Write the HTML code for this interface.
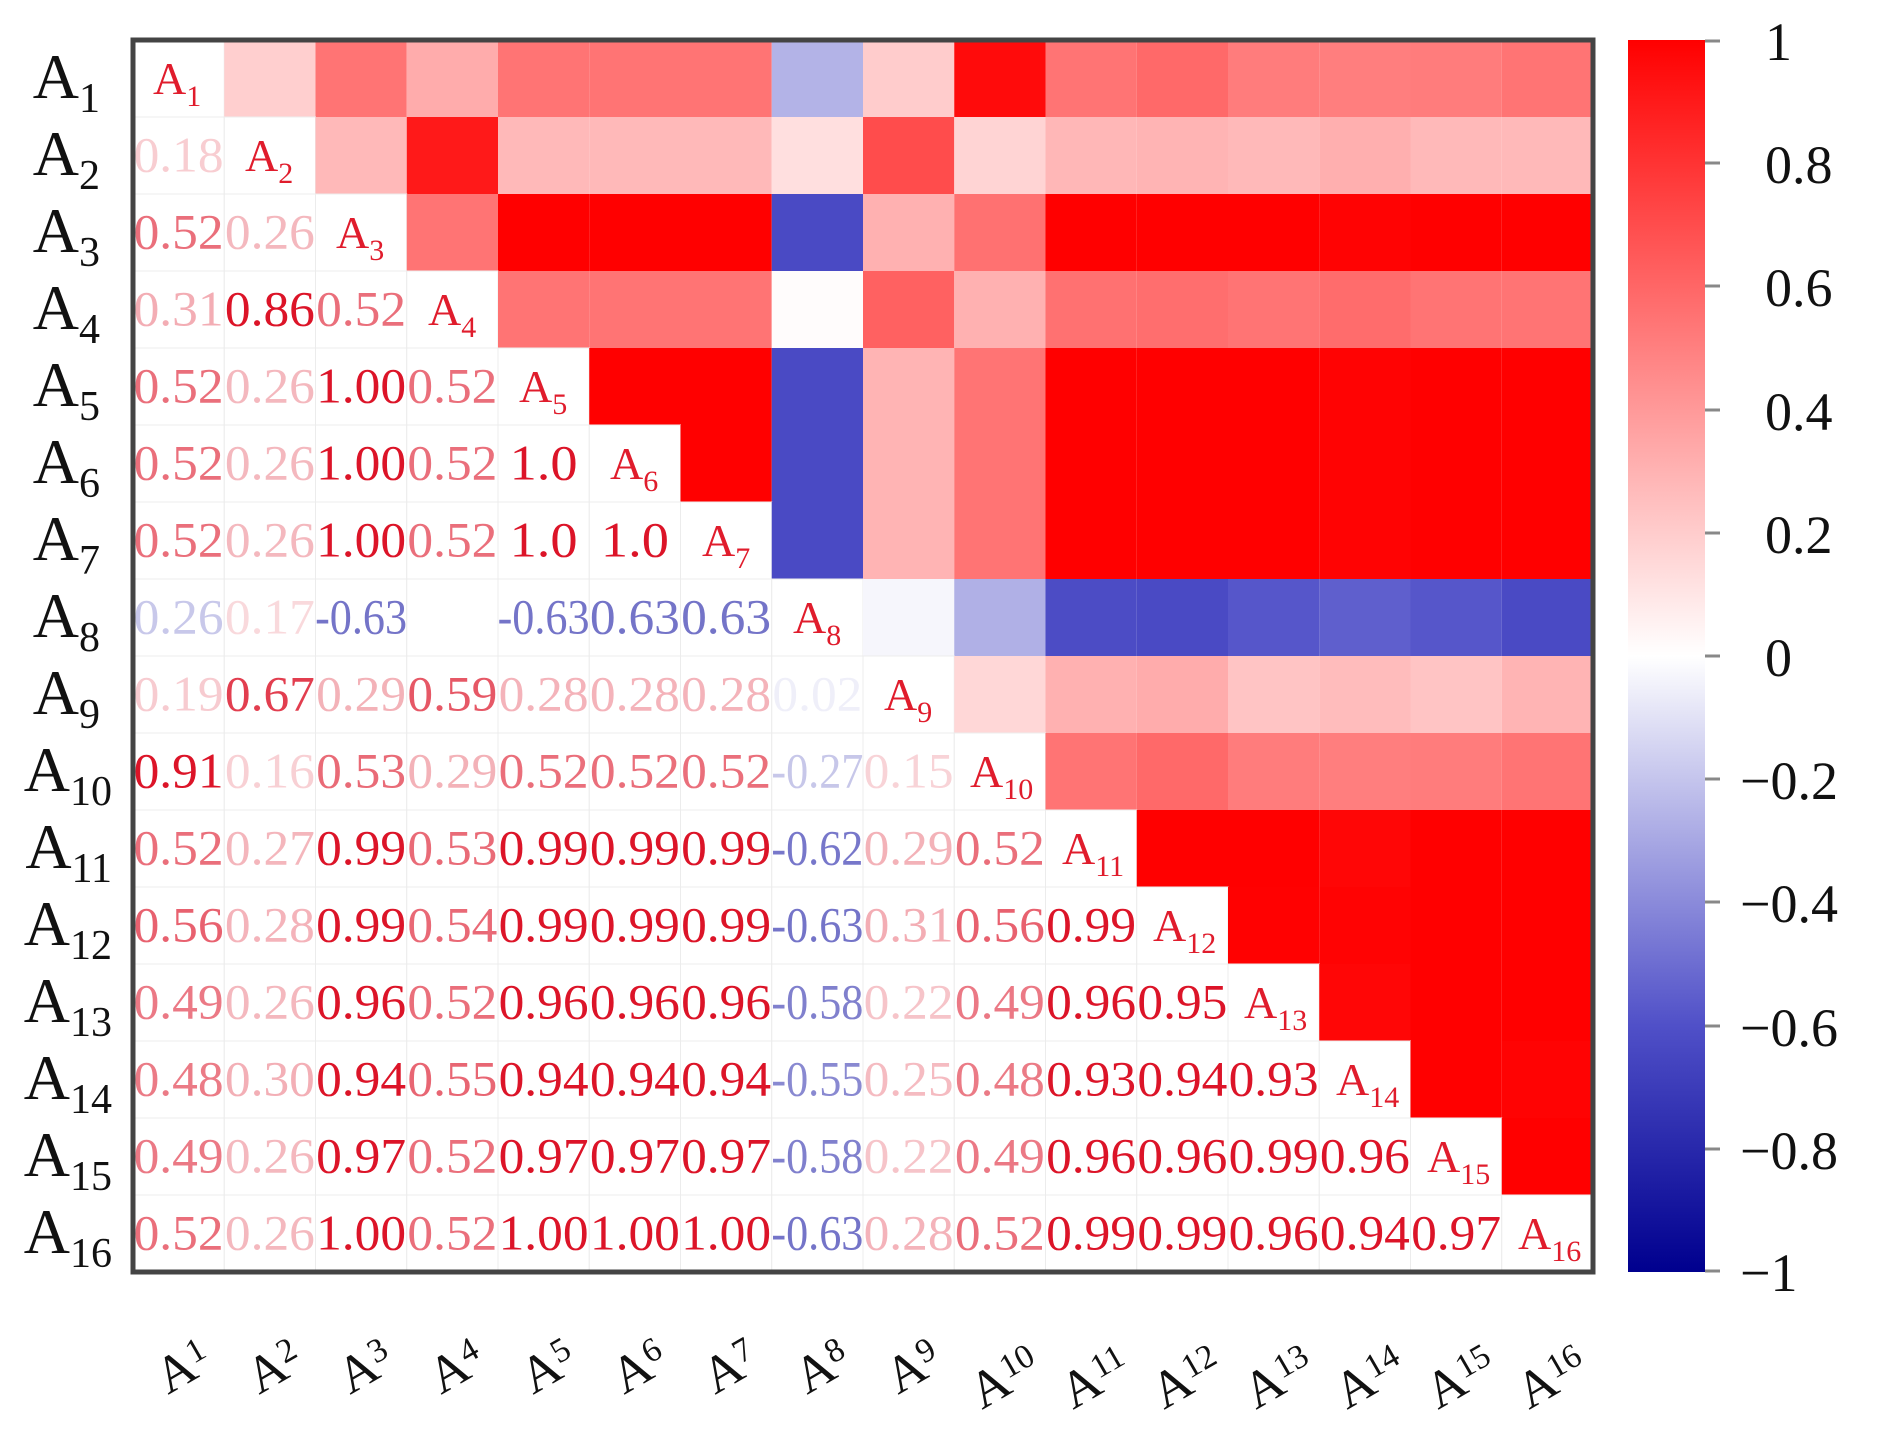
<!DOCTYPE html>
<html><head><meta charset="utf-8"><style>
html,body{margin:0;padding:0;background:#fff;}
svg{display:block;font-family:"Liberation Serif",serif;}
.v{font-size:50px;text-anchor:middle;}
.d{font-size:46px;fill:#e01c2c;}
.s{font-size:30px;}
.rl{font-size:64px;fill:#111;text-anchor:end;}
.cl{font-size:52px;fill:#111;}
.ct{font-size:54px;fill:#111;}
</style></head><body>
<svg id="svg" width="1904" height="1431" viewBox="0 0 1904 1431" xmlns="http://www.w3.org/2000/svg">
<defs><linearGradient id="cb" x1="0" y1="0" x2="0" y2="1">
<stop offset="0" stop-color="#ff0000"/><stop offset="0.5" stop-color="#ffffff"/><stop offset="0.8" stop-color="#5050c8"/><stop offset="1" stop-color="#00008e"/></linearGradient></defs>
<g id="cells"></g>
<g id="vals">
<text class="v" x="178.6" y="171.5">0.18</text>
<text class="v" x="178.6" y="248.5">0.52</text><text class="v" x="269.9" y="248.5">0.26</text>
<text class="v" x="178.6" y="325.5">0.31</text><text class="v" x="269.9" y="325.5">0.86</text><text class="v" x="361.1" y="325.5">0.52</text>
<text class="v" x="178.6" y="402.5">0.52</text><text class="v" x="269.9" y="402.5">0.26</text><text class="v" x="361.1" y="402.5">1.00</text><text class="v" x="452.4" y="402.5">0.52</text>
<text class="v" x="178.6" y="479.5">0.52</text><text class="v" x="269.9" y="479.5">0.26</text><text class="v" x="361.1" y="479.5">1.00</text><text class="v" x="452.4" y="479.5">0.52</text><text class="v" x="543.6" y="479.5">1.0</text>
<text class="v" x="178.6" y="556.5">0.52</text><text class="v" x="269.9" y="556.5">0.26</text><text class="v" x="361.1" y="556.5">1.00</text><text class="v" x="452.4" y="556.5">0.52</text><text class="v" x="543.6" y="556.5">1.0</text><text class="v" x="634.9" y="556.5">1.0</text>
<text class="v" x="178.6" y="633.5">0.26</text><text class="v" x="269.9" y="633.5">0.17</text><text class="v" x="361.1" y="633.5">-0.63</text><text class="v" x="452.4" y="633.5"></text><text class="v" x="543.6" y="633.5">-0.63</text><text class="v" x="634.9" y="633.5">0.63</text><text class="v" x="726.1" y="633.5">0.63</text>
<text class="v" x="178.6" y="710.5">0.19</text><text class="v" x="269.9" y="710.5">0.67</text><text class="v" x="361.1" y="710.5">0.29</text><text class="v" x="452.4" y="710.5">0.59</text><text class="v" x="543.6" y="710.5">0.28</text><text class="v" x="634.9" y="710.5">0.28</text><text class="v" x="726.1" y="710.5">0.28</text><text class="v" x="817.4" y="710.5">0.02</text>
<text class="v" x="178.6" y="787.5">0.91</text><text class="v" x="269.9" y="787.5">0.16</text><text class="v" x="361.1" y="787.5">0.53</text><text class="v" x="452.4" y="787.5">0.29</text><text class="v" x="543.6" y="787.5">0.52</text><text class="v" x="634.9" y="787.5">0.52</text><text class="v" x="726.1" y="787.5">0.52</text><text class="v" x="817.4" y="787.5">-0.27</text><text class="v" x="908.6" y="787.5">0.15</text>
<text class="v" x="178.6" y="864.5">0.52</text><text class="v" x="269.9" y="864.5">0.27</text><text class="v" x="361.1" y="864.5">0.99</text><text class="v" x="452.4" y="864.5">0.53</text><text class="v" x="543.6" y="864.5">0.99</text><text class="v" x="634.9" y="864.5">0.99</text><text class="v" x="726.1" y="864.5">0.99</text><text class="v" x="817.4" y="864.5">-0.62</text><text class="v" x="908.6" y="864.5">0.29</text><text class="v" x="999.9" y="864.5">0.52</text>
<text class="v" x="178.6" y="941.5">0.56</text><text class="v" x="269.9" y="941.5">0.28</text><text class="v" x="361.1" y="941.5">0.99</text><text class="v" x="452.4" y="941.5">0.54</text><text class="v" x="543.6" y="941.5">0.99</text><text class="v" x="634.9" y="941.5">0.99</text><text class="v" x="726.1" y="941.5">0.99</text><text class="v" x="817.4" y="941.5">-0.63</text><text class="v" x="908.6" y="941.5">0.31</text><text class="v" x="999.9" y="941.5">0.56</text><text class="v" x="1091.1" y="941.5">0.99</text>
<text class="v" x="178.6" y="1018.5">0.49</text><text class="v" x="269.9" y="1018.5">0.26</text><text class="v" x="361.1" y="1018.5">0.96</text><text class="v" x="452.4" y="1018.5">0.52</text><text class="v" x="543.6" y="1018.5">0.96</text><text class="v" x="634.9" y="1018.5">0.96</text><text class="v" x="726.1" y="1018.5">0.96</text><text class="v" x="817.4" y="1018.5">-0.58</text><text class="v" x="908.6" y="1018.5">0.22</text><text class="v" x="999.9" y="1018.5">0.49</text><text class="v" x="1091.1" y="1018.5">0.96</text><text class="v" x="1182.4" y="1018.5">0.95</text>
<text class="v" x="178.6" y="1095.5">0.48</text><text class="v" x="269.9" y="1095.5">0.30</text><text class="v" x="361.1" y="1095.5">0.94</text><text class="v" x="452.4" y="1095.5">0.55</text><text class="v" x="543.6" y="1095.5">0.94</text><text class="v" x="634.9" y="1095.5">0.94</text><text class="v" x="726.1" y="1095.5">0.94</text><text class="v" x="817.4" y="1095.5">-0.55</text><text class="v" x="908.6" y="1095.5">0.25</text><text class="v" x="999.9" y="1095.5">0.48</text><text class="v" x="1091.1" y="1095.5">0.93</text><text class="v" x="1182.4" y="1095.5">0.94</text><text class="v" x="1273.6" y="1095.5">0.93</text>
<text class="v" x="178.6" y="1172.5">0.49</text><text class="v" x="269.9" y="1172.5">0.26</text><text class="v" x="361.1" y="1172.5">0.97</text><text class="v" x="452.4" y="1172.5">0.52</text><text class="v" x="543.6" y="1172.5">0.97</text><text class="v" x="634.9" y="1172.5">0.97</text><text class="v" x="726.1" y="1172.5">0.97</text><text class="v" x="817.4" y="1172.5">-0.58</text><text class="v" x="908.6" y="1172.5">0.22</text><text class="v" x="999.9" y="1172.5">0.49</text><text class="v" x="1091.1" y="1172.5">0.96</text><text class="v" x="1182.4" y="1172.5">0.96</text><text class="v" x="1273.6" y="1172.5">0.99</text><text class="v" x="1364.9" y="1172.5">0.96</text>
<text class="v" x="178.6" y="1249.5">0.52</text><text class="v" x="269.9" y="1249.5">0.26</text><text class="v" x="361.1" y="1249.5">1.00</text><text class="v" x="452.4" y="1249.5">0.52</text><text class="v" x="543.6" y="1249.5">1.00</text><text class="v" x="634.9" y="1249.5">1.00</text><text class="v" x="726.1" y="1249.5">1.00</text><text class="v" x="817.4" y="1249.5">-0.63</text><text class="v" x="908.6" y="1249.5">0.28</text><text class="v" x="999.9" y="1249.5">0.52</text><text class="v" x="1091.1" y="1249.5">0.99</text><text class="v" x="1182.4" y="1249.5">0.99</text><text class="v" x="1273.6" y="1249.5">0.96</text><text class="v" x="1364.9" y="1249.5">0.94</text><text class="v" x="1456.1" y="1249.5">0.97</text>
</g>
<g id="diag">
<text class="d" x="153" y="94">A<tspan class="s" dy="12">1</tspan></text>
<text class="d" x="245" y="171">A<tspan class="s" dy="12">2</tspan></text>
<text class="d" x="336" y="248">A<tspan class="s" dy="12">3</tspan></text>
<text class="d" x="428" y="325">A<tspan class="s" dy="12">4</tspan></text>
<text class="d" x="519" y="402">A<tspan class="s" dy="12">5</tspan></text>
<text class="d" x="610" y="479">A<tspan class="s" dy="12">6</tspan></text>
<text class="d" x="702" y="556">A<tspan class="s" dy="12">7</tspan></text>
<text class="d" x="793" y="633">A<tspan class="s" dy="12">8</tspan></text>
<text class="d" x="884" y="710">A<tspan class="s" dy="12">9</tspan></text>
<text class="d" x="970" y="787">A<tspan class="s" dy="12">10</tspan></text>
<text class="d" x="1062" y="864">A<tspan class="s" dy="12">11</tspan></text>
<text class="d" x="1153" y="941">A<tspan class="s" dy="12">12</tspan></text>
<text class="d" x="1244" y="1018">A<tspan class="s" dy="12">13</tspan></text>
<text class="d" x="1336" y="1095">A<tspan class="s" dy="12">14</tspan></text>
<text class="d" x="1427" y="1172">A<tspan class="s" dy="12">15</tspan></text>
<text class="d" x="1518" y="1249">A<tspan class="s" dy="12">16</tspan></text>
</g>
<rect x="133" y="40" width="1460" height="1232" fill="none" stroke="#444" stroke-width="5"/>
<g id="rows">
<text class="rl" x="100" y="98">A<tspan font-size="42" dy="14">1</tspan></text>
<text class="rl" x="100" y="175">A<tspan font-size="42" dy="14">2</tspan></text>
<text class="rl" x="100" y="252">A<tspan font-size="42" dy="14">3</tspan></text>
<text class="rl" x="100" y="329">A<tspan font-size="42" dy="14">4</tspan></text>
<text class="rl" x="100" y="406">A<tspan font-size="42" dy="14">5</tspan></text>
<text class="rl" x="100" y="483">A<tspan font-size="42" dy="14">6</tspan></text>
<text class="rl" x="100" y="560">A<tspan font-size="42" dy="14">7</tspan></text>
<text class="rl" x="100" y="637">A<tspan font-size="42" dy="14">8</tspan></text>
<text class="rl" x="100" y="714">A<tspan font-size="42" dy="14">9</tspan></text>
<text class="rl" x="112" y="791">A<tspan font-size="42" dy="14">10</tspan></text>
<text class="rl" x="112" y="868">A<tspan font-size="42" dy="14">11</tspan></text>
<text class="rl" x="112" y="945">A<tspan font-size="42" dy="14">12</tspan></text>
<text class="rl" x="112" y="1022">A<tspan font-size="42" dy="14">13</tspan></text>
<text class="rl" x="112" y="1099">A<tspan font-size="42" dy="14">14</tspan></text>
<text class="rl" x="112" y="1176">A<tspan font-size="42" dy="14">15</tspan></text>
<text class="rl" x="112" y="1253">A<tspan font-size="42" dy="14">16</tspan></text>
</g>
<g id="cols">
<text class="cl" transform="translate(168,1395) rotate(-30)">A<tspan font-size="34" dy="-14">1</tspan></text>
<text class="cl" transform="translate(259,1395) rotate(-30)">A<tspan font-size="34" dy="-14">2</tspan></text>
<text class="cl" transform="translate(350,1395) rotate(-30)">A<tspan font-size="34" dy="-14">3</tspan></text>
<text class="cl" transform="translate(441,1395) rotate(-30)">A<tspan font-size="34" dy="-14">4</tspan></text>
<text class="cl" transform="translate(533,1395) rotate(-30)">A<tspan font-size="34" dy="-14">5</tspan></text>
<text class="cl" transform="translate(624,1395) rotate(-30)">A<tspan font-size="34" dy="-14">6</tspan></text>
<text class="cl" transform="translate(715,1395) rotate(-30)">A<tspan font-size="34" dy="-14">7</tspan></text>
<text class="cl" transform="translate(807,1395) rotate(-30)">A<tspan font-size="34" dy="-14">8</tspan></text>
<text class="cl" transform="translate(898,1395) rotate(-30)">A<tspan font-size="34" dy="-14">9</tspan></text>
<text class="cl" transform="translate(982,1410) rotate(-30)">A<tspan font-size="34" dy="-14">10</tspan></text>
<text class="cl" transform="translate(1073,1410) rotate(-30)">A<tspan font-size="34" dy="-14">11</tspan></text>
<text class="cl" transform="translate(1164,1410) rotate(-30)">A<tspan font-size="34" dy="-14">12</tspan></text>
<text class="cl" transform="translate(1256,1410) rotate(-30)">A<tspan font-size="34" dy="-14">13</tspan></text>
<text class="cl" transform="translate(1347,1410) rotate(-30)">A<tspan font-size="34" dy="-14">14</tspan></text>
<text class="cl" transform="translate(1438,1410) rotate(-30)">A<tspan font-size="34" dy="-14">15</tspan></text>
<text class="cl" transform="translate(1529,1410) rotate(-30)">A<tspan font-size="34" dy="-14">16</tspan></text>
</g>
<rect x="1628" y="40" width="77" height="1232" fill="url(#cb)"/>
<g stroke="#888" stroke-width="3">
<line x1="1705" y1="41" x2="1720" y2="41"/><line x1="1705" y1="163" x2="1720" y2="163"/><line x1="1705" y1="286" x2="1720" y2="286"/><line x1="1705" y1="410" x2="1720" y2="410"/><line x1="1705" y1="533" x2="1720" y2="533"/><line x1="1705" y1="656" x2="1720" y2="656"/><line x1="1705" y1="779" x2="1720" y2="779"/><line x1="1705" y1="902" x2="1720" y2="902"/><line x1="1705" y1="1026" x2="1720" y2="1026"/><line x1="1705" y1="1149" x2="1720" y2="1149"/><line x1="1705" y1="1271" x2="1720" y2="1271"/>
</g>
<g class="ct">
<text x="1765" y="60">1</text>
<text x="1765" y="183">0.8</text>
<text x="1765" y="306">0.6</text>
<text x="1765" y="430">0.4</text>
<text x="1765" y="553">0.2</text>
<text x="1765" y="676">0</text>
<text x="1740" y="799">−0.2</text>
<text x="1740" y="922">−0.4</text>
<text x="1740" y="1046">−0.6</text>
<text x="1740" y="1169">−0.8</text>
<text x="1740" y="1291">−1</text>
</g>
</svg>
<script>
(function(){
var L=[[],[0.18],[0.52,0.26],[0.31,0.86,0.52],[0.52,0.26,1,0.52],[0.52,0.26,1,0.52,1],[0.52,0.26,1,0.52,1,1],
[-0.26,0.12,-0.63,0.01,-0.63,-0.63,-0.63],[0.19,0.67,0.29,0.59,0.28,0.28,0.28,-0.03],
[0.91,0.16,0.53,0.29,0.52,0.52,0.52,-0.27,0.15],[0.52,0.27,0.99,0.53,0.99,0.99,0.99,-0.62,0.29,0.52],
[0.56,0.28,0.99,0.54,0.99,0.99,0.99,-0.63,0.31,0.56,0.99],[0.49,0.26,0.96,0.52,0.96,0.96,0.96,-0.58,0.22,0.49,0.96,0.95],
[0.48,0.30,0.94,0.55,0.94,0.94,0.94,-0.55,0.25,0.48,0.93,0.94,0.93],[0.49,0.26,0.97,0.52,0.97,0.97,0.97,-0.58,0.22,0.49,0.96,0.96,0.99,0.96],
[0.52,0.26,1,0.52,1,1,1,-0.63,0.28,0.52,0.99,0.99,0.96,0.94,0.97]];
function cm(v){var r,g,b;if(v>=0){var t=Math.min(1,v*1.05);r=255;g=b=Math.round(255*(1-t));}
else{var t=-v;if(t<=0.6){var k=t/0.6;r=g=Math.round(255-175*k);b=Math.round(255-55*k);}else{var k=(t-0.6)/0.4;r=g=Math.round(80-80*k);b=Math.round(200-58*k);}}
return 'rgb('+r+','+g+','+b+')';}
var ns='http://www.w3.org/2000/svg',G=document.getElementById('cells'),w=1460/16,h=77;
for(var r=0;r<16;r++)for(var c=0;c<16;c++){var e=document.createElementNS(ns,'rect');
e.setAttribute('x',133+c*w);e.setAttribute('y',40+r*h);e.setAttribute('width',w);e.setAttribute('height',h);
if(c>r){e.setAttribute('fill',cm(L[c][r]));}else{e.setAttribute('fill','#fff');e.setAttribute('stroke','#ececec');e.setAttribute('stroke-width','1');}
G.appendChild(e);}
var T=document.querySelectorAll('#vals text'),i=0;
for(var r=1;r<16;r++)for(var c=0;c<r;c++){var v=L[r][c],t=T[i++];
var a=Math.min(1,Math.pow(Math.abs(v),1.3)*1.25+0.08);
var n=t.textContent.length;
if(n>0){t.setAttribute('textLength',n>=5?92:(n==4?90:68));t.setAttribute('lengthAdjust','spacingAndGlyphs');}
t.setAttribute('fill',v>=0?'#dc1428':'#4a4ab8');t.setAttribute('fill-opacity',a.toFixed(2));}
})();
</script>
</body></html>
